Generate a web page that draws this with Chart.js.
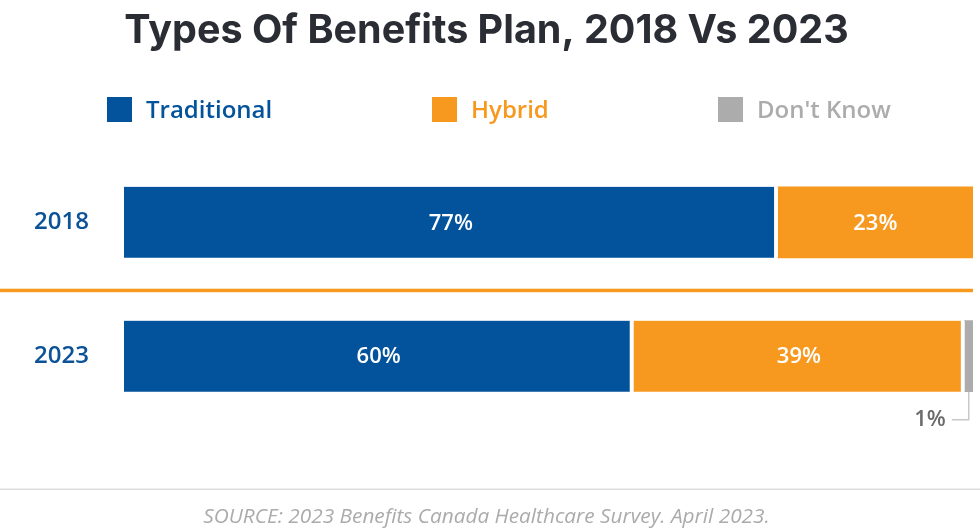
<!DOCTYPE html>
<html>
<head>
<meta charset="utf-8">
<title>Types Of Benefits Plan, 2018 Vs 2023</title>
<style>
  html, body { margin: 0; padding: 0; background: #fff; }
  #wrap { width: 980px; height: 532px; position: relative; }
</style>
<script src="https://cdn.jsdelivr.net/npm/chart.js@4.4.0/dist/chart.umd.min.js"></script>
</head>
<body>
<div id="wrap"><canvas id="myChart"></canvas></div>
<script>
// chart data
const years = ['2018', '2023'];
const traditional = [77, 60];
const hybrid = [23, 39];
const dontKnow = [0, 1];
const seriesNames = ['Traditional', 'Hybrid', "Don't Know"];
const seriesColors = ['#02529c', '#f7991f', '#acacac'];
const titleText = 'Types Of Benefits Plan, 2018 Vs 2023';
const sourceText = 'SOURCE: 2023 Benefits Canada Healthcare Survey. April 2023.';

// white gap on the right of a segment, unless it is the last one in the row
function gapRight(ctx) {
  const i = ctx.datasetIndex, j = ctx.dataIndex;
  const rows = ctx.chart.data.datasets;
  let later = 0;
  for (let k = i + 1; k < rows.length; k++) later += rows[k].data[j] || 0;
  return { top: 0, bottom: 0, left: 0, right: later > 0 ? 4 : 0 };
}

// value labels in / below the bars
const barLabels = {
  id: 'barLabels',
  afterDatasetsDraw(chart) {
    const ctx = chart.ctx;
    ctx.save();
    chart.data.datasets.forEach((ds, i) => {
      const meta = chart.getDatasetMeta(i);
      meta.data.forEach((bar, j) => {
        const v = ds.data[j];
        if (!v) return;
        if (v >= 5) {
          ctx.font = '600 22px "Open Sans"';
          ctx.fillStyle = '#ffffff';
          ctx.textAlign = 'center';
          ctx.textBaseline = 'middle';
          ctx.fillText(v + '%', (bar.x + bar.base) / 2, bar.y + 1);
        } else {
          // small share: leader line and label under the bar
          const cx = (bar.x + bar.base) / 2;
          const bottom = bar.y + bar.height / 2;
          const ly = bottom + 28;
          ctx.strokeStyle = '#c8c8c8';
          ctx.lineWidth = 1.5;
          ctx.beginPath();
          ctx.moveTo(cx, bottom);
          ctx.lineTo(cx, ly);
          ctx.lineTo(cx - 17, ly);
          ctx.stroke();
          ctx.font = '600 22px "Open Sans"';
          ctx.fillStyle = '#6b6b6b';
          ctx.textAlign = 'right';
          ctx.textBaseline = 'middle';
          ctx.fillText(v + '%', cx - 23, ly);
        }
      });
    });
    ctx.restore();
  }
};

// legend row under the title
const legendRow = {
  id: 'legendRow',
  afterDraw(chart) {
    const ctx = chart.ctx;
    const starts = [107, 432, 718];
    const box = 25, gap = 14;
    ctx.save();
    ctx.font = '600 24px "Open Sans"';
    chart.data.datasets.forEach((ds, i) => {
      const x = starts[i];
      ctx.fillStyle = ds.backgroundColor;
      ctx.fillRect(x, 97, box, box);
      ctx.textAlign = 'left';
      ctx.textBaseline = 'middle';
      ctx.fillText(ds.label, x + box + gap, 111);
    });
    ctx.restore();
  }
};

// orange divider between years, grey rule above the source
const rules = {
  id: 'rules',
  afterDraw(chart) {
    const ctx = chart.ctx;
    const y = chart.scales.y;
    const mid = (y.getPixelForTick(0) + y.getPixelForTick(1)) / 2 + 1;
    ctx.save();
    ctx.fillStyle = '#f7991f';
    ctx.fillRect(0, mid - 1.5, chart.chartArea.right, 3.5);
    ctx.fillStyle = '#dddddd';
    ctx.fillRect(0, 488.5, chart.width, 1.5);
    ctx.restore();
  }
};

const ctx = document.getElementById('myChart');
new Chart(ctx, {
  type: 'bar',
  data: {
    labels: years,
    datasets: [
      { label: seriesNames[0], data: traditional, backgroundColor: seriesColors[0] },
      { label: seriesNames[1], data: hybrid, backgroundColor: seriesColors[1] },
      { label: seriesNames[2], data: dontKnow, backgroundColor: seriesColors[2] }
    ].map(ds => Object.assign(ds, {
      barThickness: 71,
      borderColor: '#ffffff',
      borderSkipped: false,
      borderWidth: gapRight
    }))
  },
  options: {
    indexAxis: 'y',
    responsive: true,
    maintainAspectRatio: false,
    animation: false,
    layout: { padding: { left: 0, right: 7, top: 0, bottom: 0 } },
    scales: {
      x: { stacked: true, min: 0, max: 100, display: false },
      y: {
        stacked: true,
        grid: { display: false, drawTicks: false },
        border: { display: false },
        ticks: { color: '#0b5297', font: { family: 'Open Sans', size: 24, weight: '600' }, padding: 35 },
        afterFit(scale) { scale.width = 124; }
      }
    },
    plugins: {
      legend: { display: false },
      tooltip: { enabled: false },
      title: {
        display: true,
        text: titleText,
        color: '#2a2d34',
        font: { family: 'Inter', size: 39.5, weight: '700' },
        padding: { top: 7, bottom: 101 }
      },
      subtitle: {
        display: true,
        position: 'bottom',
        text: sourceText,
        color: '#ababab',
        font: { family: 'Open Sans', size: 20.8, style: 'italic' },
        padding: { top: 82, bottom: 2 }
      }
    }
  },
  plugins: [barLabels, legendRow, rules]
});
</script>
</body>
</html>
